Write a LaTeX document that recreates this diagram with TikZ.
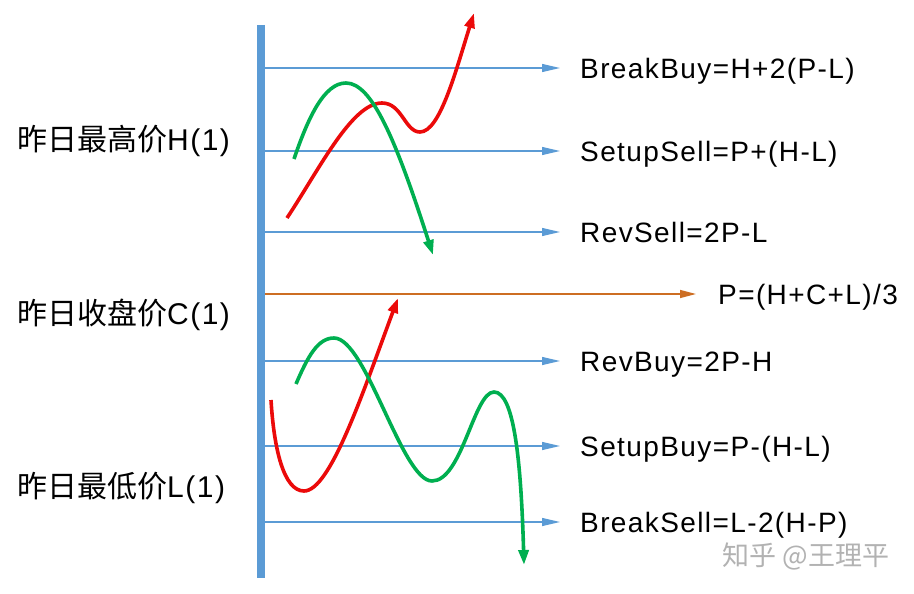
\documentclass[tikz,border=0pt]{standalone}
\usepackage{fontspec}
\setmainfont{Liberation Sans}[LetterSpace=5]
\newfontfamily\cjk{Noto Sans CJK SC}
\usetikzlibrary{arrows.meta,positioning}
\definecolor{barblue}{RGB}{91,155,213}
\definecolor{pivorange}{RGB}{205,110,35}
\definecolor{upred}{RGB}{235,10,10}
\definecolor{downgreen}{RGB}{0,175,80}

\begin{document}
\begin{tikzpicture}[x=1pt,y=-1pt,
    lvl/.style={-{Triangle[length=18pt,width=8pt]},barblue,line width=1.2pt},
    pvt/.style={-{Triangle[length=16pt,width=8pt]},pivorange,line width=1.4pt},
    val/.style={font=\fontsize{28}{32}\selectfont,inner sep=0pt,text height=20pt,text depth=0pt},
    day/.style={font=\fontsize{30}{34}\selectfont,inner sep=0pt,anchor=west},
    wmk/.style={font=\cjk\fontsize{27}{32}\selectfont,text=black!30,inner sep=0pt},
    move/.style={line width=3.6pt,-{Triangle[length=15pt,width=10pt]}}]
      \useasboundingbox (0,0) rectangle (914,594);
      \coordinate (top) at (261,25);
      \coordinate (bot) at (261,578);
      \draw[barblue,line width=8pt] (top) -- (bot);
      \coordinate (s1) at (265,68);  \coordinate (t1) at (560,68);
      \coordinate (s2) at (265,151); \coordinate (t2) at (560,151);
      \coordinate (s3) at (265,232); \coordinate (t3) at (560,232);
      \coordinate (s4) at (265,294); \coordinate (t4) at (696,294);
      \coordinate (s5) at (265,361); \coordinate (t5) at (560,361);
      \coordinate (s6) at (265,446); \coordinate (t6) at (560,446);
      \coordinate (s7) at (265,522); \coordinate (t7) at (560,522);
      \node[val,right=20pt of t1] (bbuy)  {BreakBuy=H+2(P-L)};
      \node[val,right=20pt of t2] (ssell) {SetupSell=P+(H-L)};
      \node[val,right=20pt of t3] (rsell) {RevSell=2P-L};
      \node[val,right=22pt of t4] (pivot) {P=(H+C+L)/3};
      \node[val,right=20pt of t5] (rbuy)  {RevBuy=2P-H};
      \node[val,right=20pt of t6] (sbuy)  {SetupBuy=P-(H-L)};
      \node[val,right=20pt of t7] (bsell) {BreakSell=L-2(H-P)};
      \node[day] (high)  at (17,141) {{\cjk 昨日最高价}H(1)};
      \node[day] (close) at (17,315) {{\cjk 昨日收盘价}C(1)};
      \node[day] (low)   at (17,488) {{\cjk 昨日最低价}L(1)};
      \node[wmk] (zh) at (806,556) {知乎 @王理平};
      \foreach \i in {1,2,3,5,6,7}
        \draw[lvl] (s\i) -- (t\i);
      \draw[pvt] (s4) -- (t4);
      \draw[move,upred] (287,218) .. controls (320,168) and (352,103) .. (382,103)
        .. controls (402,103) and (405,132) .. (420,132)
        .. controls (440,132) and (456,70) .. (474,13);
      \draw[move,downgreen] (294,159) .. controls (308,118) and (324,83) .. (346,83)
        .. controls (372,83) and (396,140) .. (433,255);
      \draw[move,upred] (271,400) .. controls (274,450) and (284,491) .. (304,491)
        .. controls (330,491) and (362,395) .. (398,298);
      \draw[move,downgreen] (296,384) .. controls (308,356) and (318,338) .. (334,338)
        .. controls (366,338) and (402,481) .. (432,481)
        .. controls (462,481) and (474,392) .. (494,392)
        .. controls (514,392) and (521,460) .. (524,565);
    \end{tikzpicture}
\end{document}
